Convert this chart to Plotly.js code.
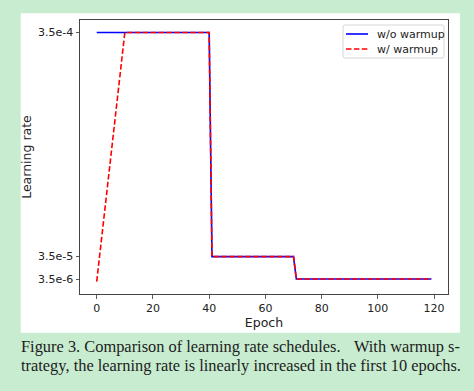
<!DOCTYPE html>
<html>
<head>
<meta charset="utf-8">
<script src="https://cdn.plot.ly/plotly-3.0.1.min.js"></script>
<style>
html,body{margin:0;padding:0;background:#c8ecd0;}
#chart{width:474px;height:391px;}
</style>
</head>
<body>
<div id="chart"></div>
<script>
// Data
const epochsNoWarmup = [0, 40, 41, 70, 71, 119];
const lrNoWarmup = [3.5e-4, 3.5e-4, 3.5e-5, 3.5e-5, 3.5e-6, 3.5e-6];
const epochsWarmup = [0, 10, 40, 41, 70, 71, 119];
const lrWarmup = [0, 3.5e-4, 3.5e-4, 3.5e-5, 3.5e-5, 3.5e-6, 3.5e-6];
const yTickVals = [3.5e-6, 3.5e-5, 3.5e-4];
const yTickText = ['3.5e-6', '3.5e-5', '3.5e-4'];
const xTickVals = [0, 20, 40, 60, 80, 100, 120];
const seriesNames = ['w/o warmup', 'w/ warmup'];
const seriesColors = ['#0000ff', '#ff0000'];
const captionLine1a = 'Figure 3. Comparison of learning rate schedules.';
const captionLine1b = 'With warmup s-';
const captionLine2 = 'trategy, the learning rate is linearly increased in the first 10 epochs.';

const W = 474, H = 391;
const L = 80, R = 448, T = 20, B = 294;
const pw = R - L, ph = B - T;
const px = x => (x - L) / pw;
const py = y => (B - y) / ph;

const font = 'DejaVu Sans, sans-serif';
const serif = 'Liberation Serif, Times New Roman, serif';
const dashPat = '5.5px,2.4px';

const traces = [
  {x: epochsNoWarmup, y: lrNoWarmup, name: seriesNames[0], mode: 'lines',
   line: {color: seriesColors[0], width: 1.6}},
  {x: epochsWarmup, y: lrWarmup, name: seriesNames[1], mode: 'lines',
   line: {color: seriesColors[1], width: 1.6, dash: dashPat}}
];

// custom legend (matplotlib style)
const legX0 = 343, legX1 = 444, legY0 = 25, legY1 = 58;
const legRows = [34, 49];
const legendShapes = [
  {type: 'path', xref: 'paper', yref: 'paper', layer: 'above',
   path: (() => {
     const r = 2, x0 = px(legX0), x1 = px(legX1), y0 = py(legY1), y1 = py(legY0);
     const rx = r / pw, ry = r / ph;
     return `M${x0 + rx},${y1} L${x1 - rx},${y1} Q${x1},${y1} ${x1},${y1 - ry} L${x1},${y0 + ry} Q${x1},${y0} ${x1 - rx},${y0} L${x0 + rx},${y0} Q${x0},${y0} ${x0},${y0 + ry} L${x0},${y1 - ry} Q${x0},${y1} ${x0 + rx},${y1} Z`;
   })(),
   fillcolor: 'rgba(255,255,255,0.9)', line: {color: '#d6d6d6', width: 1}}
];
const legendAnn = [];
seriesNames.forEach((n, i) => {
  legendShapes.push({type: 'line', xref: 'paper', yref: 'paper', layer: 'above',
    x0: px(346), x1: px(368), y0: py(legRows[i]), y1: py(legRows[i]),
    line: {color: seriesColors[i], width: 1.6, dash: i === 1 ? dashPat : 'solid'}});
  legendAnn.push({xref: 'paper', yref: 'paper', x: px(375), y: py(legRows[i]),
    xanchor: 'left', yanchor: 'middle', text: n, showarrow: false,
    font: {family: font, size: 11, color: '#222'}});
});

const capFont = {family: serif, size: 16.4, color: '#1c1c1c'};

const layout = {
  width: W, height: H,
  margin: {l: L, r: W - R, t: T, b: H - B, pad: 0},
  paper_bgcolor: '#c8ecd0',
  plot_bgcolor: '#ffffff',
  showlegend: false,
  xaxis: {
    range: [-5.95, 124.95], tickvals: xTickVals,
    ticks: 'outside', ticklen: 3.5, tickwidth: 0.8, tickcolor: '#333',
    showline: true, mirror: true, linecolor: '#444', linewidth: 1,
    showgrid: false, zeroline: false,
    tickfont: {family: font, size: 11, color: '#222'},
    title: {text: 'Epoch', font: {family: font, size: 12.5, color: '#222'}, standoff: 0},
    automargin: false
  },
  yaxis: {
    range: [-1.75e-5, 3.675e-4], tickvals: yTickVals, ticktext: yTickText,
    ticks: 'outside', ticklen: 3.5, tickwidth: 0.8, tickcolor: '#333',
    showline: true, mirror: true, linecolor: '#444', linewidth: 1,
    showgrid: false, zeroline: false,
    tickfont: {family: font, size: 11, color: '#222'},
    title: {text: 'Learning rate', font: {family: font, size: 12.5, color: '#222'}, standoff: 3},
    automargin: false
  },
  shapes: [
    {type: 'rect', xref: 'paper', yref: 'paper', layer: 'below',
     x0: px(20.7), x1: px(460), y0: py(332.7), y1: py(13.3),
     fillcolor: '#ffffff', line: {width: 0}}
  ].concat(legendShapes),
  annotations: [
    {xref: 'paper', yref: 'paper', x: px(19), y: py(358), xanchor: 'left', yanchor: 'bottom',
     text: captionLine1a, showarrow: false, font: capFont},
    {xref: 'paper', yref: 'paper', x: px(462), y: py(358), xanchor: 'right', yanchor: 'bottom',
     text: captionLine1b, showarrow: false, font: capFont},
    {xref: 'paper', yref: 'paper', x: px(19), y: py(377), xanchor: 'left', yanchor: 'bottom',
     text: captionLine2, showarrow: false, font: capFont}
  ].concat(legendAnn)
};

Plotly.newPlot('chart', traces, layout, {displayModeBar: false, staticPlot: true});
</script>
</body>
</html>
